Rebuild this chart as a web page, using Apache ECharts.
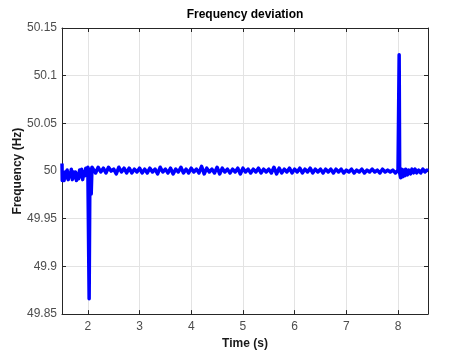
<!DOCTYPE html>
<html>
<head>
<meta charset="utf-8">
<script src="https://cdn.jsdelivr.net/npm/echarts@6/dist/echarts.min.js"></script>
<style>
html,body{margin:0;padding:0;background:#fff;}
#chart{width:474px;height:355px;}
</style>
</head>
<body>
<div id="chart"></div>
<script>
var titleText = "Frequency deviation";
var xName = "Time (s)";
var yName = "Frequency (Hz)";
var xRange = [1.5, 8.58];
var yRange = [49.85, 50.15];

var time = [
  1.50,1.505,1.52,1.54,1.56,1.58,1.60,1.62,1.64,1.66,1.68,1.70,1.72,1.74,1.76,1.78,1.80,1.82,1.84,1.86,1.88,1.90,1.92,1.94,1.96,1.98,2.00,
  2.01,2.025,2.04,2.065,2.08,
  2.10,2.15,2.20,2.25,2.30,2.35,2.40,2.45,2.50,2.55,2.60,2.65,2.70,2.75,2.80,2.85,2.90,2.95,
  3.00,3.05,3.10,3.15,3.20,3.25,3.30,3.35,3.40,3.45,3.50,3.55,3.60,3.65,3.70,3.75,3.80,3.85,3.90,3.95,
  4.00,4.05,4.10,4.15,4.20,4.25,4.30,4.35,4.40,4.45,4.50,4.55,4.60,4.65,4.70,4.75,4.80,4.85,4.90,4.95,
  5.00,5.05,5.10,5.15,5.20,5.25,5.30,5.35,5.40,5.45,5.50,5.55,5.60,5.65,5.70,5.75,5.80,5.85,5.90,5.95,
  6.00,6.05,6.10,6.15,6.20,6.25,6.30,6.35,6.40,6.45,6.50,6.55,6.60,6.65,6.70,6.75,6.80,6.85,6.90,6.95,
  7.00,7.05,7.10,7.15,7.20,7.25,7.30,7.35,7.40,7.45,7.50,7.55,7.60,7.65,7.70,7.75,7.80,7.85,7.90,7.95,
  8.00,8.012,8.022,8.032,8.05,8.07,8.09,8.11,8.13,8.15,8.18,8.21,8.24,8.27,8.30,8.33,8.36,8.40,8.44,8.48,8.52,8.56,8.58
];

var freq = [
  50.008,49.990,49.997,49.990,49.999,49.993,50.001,49.991,49.998,49.994,50.002,49.991,49.999,49.993,49.999,49.990,49.997,49.992,50.001,49.994,50.002,49.991,49.999,49.995,50.003,49.996,50.004,
  50.002,49.866,50.002,49.976,50.004,
  50.003,49.998,50.004,49.999,50.003,49.998,50.004,50.000,50.002,49.997,50.004,49.999,50.003,49.998,50.003,49.998,50.002,49.999,
  50.003,49.998,50.002,49.998,50.003,49.999,50.002,49.997,50.004,49.999,50.002,49.998,50.003,49.997,50.002,49.999,50.004,49.998,50.002,49.998,
  50.003,49.999,50.002,49.998,50.005,49.997,50.003,49.999,50.002,49.998,50.004,49.997,50.003,49.999,50.002,49.998,50.002,49.999,50.003,49.997,
  50.003,49.999,50.002,49.998,50.002,49.999,50.003,49.998,50.002,49.999,50.002,49.998,50.004,49.997,50.003,49.998,50.002,49.999,50.003,49.998,
  50.002,49.999,50.003,49.998,50.002,49.999,50.003,49.998,50.002,49.999,50.002,49.998,50.002,49.999,50.002,49.998,50.002,49.999,50.002,49.998,
  50.001,49.999,50.002,49.998,50.001,49.999,50.002,49.998,50.001,49.999,50.002,49.999,50.001,49.998,50.002,49.999,50.001,49.999,50.001,49.998,
  50.001,50.000,50.122,49.998,49.993,50.002,49.994,50.001,49.995,50.002,49.996,50.001,49.997,50.002,49.998,50.002,49.998,50.001,49.998,50.002,49.999,50.001,50.000
];

var seriesData = time.map(function (t, i) { return [t, freq[i]]; });

var chart = echarts.init(document.getElementById('chart'), null, {renderer: 'canvas'});
var fontFam = '"Liberation Sans", Arial, sans-serif';
var axisCol = '#262626';
var labelCol = '#4d4d4d';

chart.setOption({
  animation: false,
  backgroundColor: '#ffffff',
  grid: {left: 62, right: 46, top: 28, bottom: 40, containLabel: false},
  xAxis: [{
    type: 'value', min: xRange[0], max: xRange[1], splitNumber: 7,
    name: xName, nameLocation: 'middle', nameGap: 23,
    nameTextStyle: {fontFamily: fontFam, fontWeight: 'bold', fontSize: 12, color: '#1a1a1a'},
    axisLine: {show: true, onZero: false, lineStyle: {color: axisCol, width: 1}},
    axisTick: {show: true, inside: true, length: 4, lineStyle: {color: axisCol}},
    axisLabel: {showMinLabel: false, showMaxLabel: false, fontFamily: fontFam, fontSize: 12, color: labelCol, margin: 7},
    splitLine: {show: true, lineStyle: {color: '#e3e3e3', width: 1}}
  }, {
    type: 'value', position: 'top', min: xRange[0], max: xRange[1], splitNumber: 7,
    name: titleText, nameLocation: 'middle', nameGap: 7,
    nameTextStyle: {fontFamily: fontFam, fontWeight: 'bold', fontSize: 12, color: '#000000'},
    axisLine: {show: true, onZero: false, lineStyle: {color: axisCol, width: 1}},
    axisTick: {show: true, inside: true, length: 4, lineStyle: {color: axisCol}},
    axisLabel: {show: false},
    splitLine: {show: false}
  }],
  yAxis: [{
    type: 'value', min: yRange[0], max: yRange[1], interval: 0.05,
    name: yName, nameLocation: 'middle', nameGap: 38, nameMoveOverlap: false,
    nameTextStyle: {fontFamily: fontFam, fontWeight: 'bold', fontSize: 12, color: '#1a1a1a'},
    axisLine: {show: true, onZero: false, lineStyle: {color: axisCol, width: 1}},
    axisTick: {show: true, inside: true, length: 4, lineStyle: {color: axisCol}},
    axisLabel: {fontFamily: fontFam, fontSize: 12, color: labelCol, margin: 5},
    splitLine: {show: true, lineStyle: {color: '#e3e3e3', width: 1}}
  }, {
    type: 'value', position: 'right', min: yRange[0], max: yRange[1], interval: 0.05,
    axisLine: {show: true, onZero: false, lineStyle: {color: axisCol, width: 1}},
    axisTick: {show: true, inside: true, length: 4, lineStyle: {color: axisCol}},
    axisLabel: {show: false},
    splitLine: {show: false}
  }],
  series: [{
    type: 'line',
    xAxisIndex: 0, yAxisIndex: 0,
    data: seriesData,
    showSymbol: false,
    sampling: null,
    lineStyle: {color: '#0000ff', width: 3.5, join: 'round'},
    itemStyle: {color: '#0000ff'}
  }]
});
</script>
</body>
</html>
